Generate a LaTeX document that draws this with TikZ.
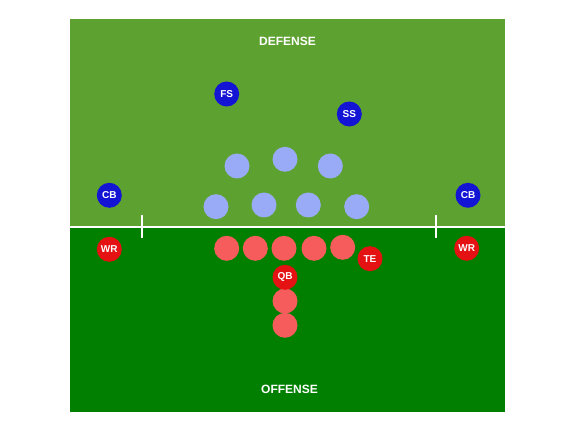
\documentclass[tikz,border=0pt]{standalone}
\usepackage{fontspec}
\setmainfont{Liberation Sans}
\definecolor{defgreen}{HTML}{5DA230}
\definecolor{offgreen}{HTML}{007F00}
\definecolor{defblue}{HTML}{1414D4}
\definecolor{dlblue}{HTML}{99AAF6}
\definecolor{offred}{HTML}{E41212}
\definecolor{olred}{HTML}{F75C5C}
\begin{document}
\begin{tikzpicture}[x=1pt,y=-1pt,
  player/.style={circle,minimum size=25pt,inner sep=0pt,text=white,font=\fontsize{10}{10}\selectfont\bfseries},
  dplayer/.style={player,fill=defblue},
  dline/.style={player,fill=dlblue},
  oplayer/.style={player,fill=offred},
  oline/.style={player,fill=olred},
  title/.style={text=white,font=\fontsize{12}{12}\selectfont\bfseries,inner sep=0pt},
  marker/.style={draw=white,line width=2pt}]
\useasboundingbox (0,0) rectangle (580,435);
\fill[white] (0,0) rectangle (580,435);
\fill[defgreen] (70,19.5) rectangle (504.5,227);
\fill[offgreen] (70,227) rectangle (504.5,411.5);
\coordinate (ll) at (70,227);
\coordinate (lr) at (504.5,227);
\draw[marker] (ll) -- (lr);
\coordinate (t1a) at (142,215);
\coordinate (t1b) at (142,238);
\coordinate (t2a) at (436,215);
\coordinate (t2b) at (436,238);
\draw[marker] (t1a) -- (t1b);
\draw[marker] (t2a) -- (t2b);
\node[title] (def) at (287.5,41.7) {DEFENSE};
\node[title] (off) at (289.5,389.3) {OFFENSE};
% defense
\node[dplayer] (fs) at (226.7,94) {FS};
\node[dplayer] (ss) at (349.3,114) {SS};
\node[dplayer] (cbl) at (109.3,195.3) {CB};
\node[dplayer] (cbr) at (468,195.3) {CB};
\node[dline] (d1) at (237,166) {};
\node[dline] (d2) at (285,159.3) {};
\node[dline] (d3) at (330.3,166) {};
\node[dline] (d4) at (216,206.7) {};
\node[dline] (d5) at (264,205) {};
\node[dline] (d6) at (308.3,205) {};
\node[dline] (d7) at (356.7,206.7) {};
% offense
\node[oplayer] (wrl) at (109.3,249.3) {WR};
\node[oplayer] (wrr) at (466.7,248.3) {WR};
\node[oline] (o1) at (226.7,248.3) {};
\node[oline] (o2) at (255.3,248.3) {};
\node[oline] (o3) at (284,248.3) {};
\node[oline] (o4) at (314,248.3) {};
\node[oline] (o5) at (342.7,247.3) {};
\node[oplayer] (te) at (370,258.7) {TE};
\node[oline] (rb2) at (285,325.3) {};
\node[oline] (rb1) at (285,301) {};
\node[oplayer] (qb) at (285,277.3) {QB};
\end{tikzpicture}
\end{document}
